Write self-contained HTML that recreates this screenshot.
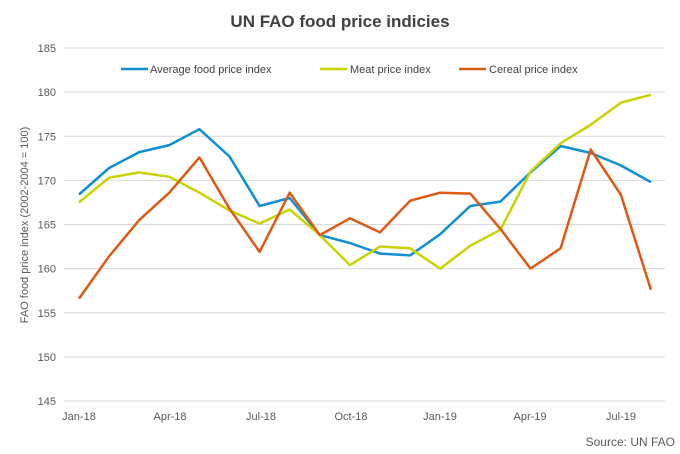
<!DOCTYPE html>
<html><head><meta charset="utf-8"><style>body{margin:0;background:#fff}svg{display:block;font-family:"Liberation Sans",sans-serif}</style></head>
<body>
<svg width="680" height="454" viewBox="0 0 680 454" xmlns="http://www.w3.org/2000/svg">
<rect width="680" height="454" fill="#fff"/>
<text x="340" y="27" text-anchor="middle" font-size="17" font-weight="bold" fill="#404040">UN FAO food price indicies</text>
<g stroke="#d9d9d9" stroke-width="1" id="grid"></g>
<g font-size="11" fill="#595959" text-anchor="end" id="yl"></g>
<g font-size="11" fill="#595959" text-anchor="middle">
<text x="79" y="420">Jan-18</text><text x="170" y="420">Apr-18</text><text x="261" y="420">Jul-18</text><text x="351" y="420">Oct-18</text><text x="440" y="420">Jan-19</text><text x="530" y="420">Apr-19</text><text x="621" y="420">Jul-19</text>
</g>
<text transform="translate(28,225) rotate(-90)" text-anchor="middle" font-size="11" fill="#595959">FAO food  price index (2002-2004  = 100)</text>
<text x="675" y="446" text-anchor="end" font-size="12" fill="#595959">Source:  UN FAO</text>
<g font-size="11" fill="#404040">
<line x1="121" y1="69" x2="148" y2="69" stroke="#0f8fd4" stroke-width="2.5"/><text x="150" y="73">Average food price index</text>
<line x1="320" y1="69" x2="347" y2="69" stroke="#c8d400" stroke-width="2.5"/><text x="350" y="73">Meat price index</text>
<line x1="459" y1="69" x2="486" y2="69" stroke="#dd5a14" stroke-width="2.5"/><text x="489" y="73">Cereal price index</text>
</g>
<g id="series" fill="none" stroke-width="2.5" stroke-linejoin="round"></g>
<script>
var g=document.getElementById('grid'),yl=document.getElementById('yl'),ns='http://www.w3.org/2000/svg';
function Y(v){return 48+(185-v)*8.825}
for(var v=145;v<=185;v+=5){var l=document.createElementNS(ns,'line');l.setAttribute('x1',64);l.setAttribute('x2',665);l.setAttribute('y1',Y(v));l.setAttribute('y2',Y(v));g.appendChild(l);
var t=document.createElementNS(ns,'text');t.setAttribute('x',56);t.setAttribute('y',Y(v)+4);t.textContent=v;yl.appendChild(t);}
var d={'#0f8fd4':[168.4,171.4,173.2,174,175.8,172.7,167.1,168,163.8,162.9,161.7,161.5,163.9,167.1,167.6,170.9,173.9,173.1,171.7,169.8],
'#c8d400':[167.5,170.3,170.9,170.4,168.6,166.6,165.1,166.7,163.8,160.4,162.5,162.3,160,162.6,164.4,171,174.2,176.3,178.8,179.7],
'#dd5a14':[156.6,161.4,165.5,168.6,172.6,166.8,161.9,168.6,163.8,165.7,164.1,167.7,168.6,168.5,164.5,160,162.3,173.5,168.4,157.6]};
var s=document.getElementById('series');
for(var c in d){var p=d[c].map(function(v,i){return (79+i*30.1).toFixed(1)+','+Y(v).toFixed(1)}).join(' ');
var pl=document.createElementNS(ns,'polyline');pl.setAttribute('points',p);pl.setAttribute('stroke',c);s.appendChild(pl);}
</script>
</svg>
</body></html>
